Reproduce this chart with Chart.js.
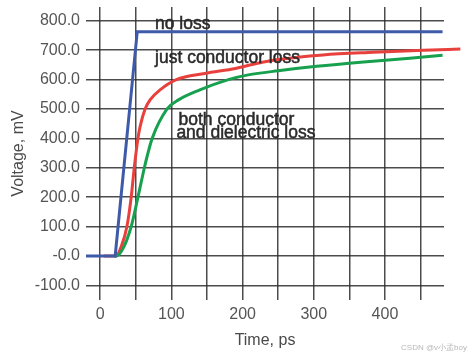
<!DOCTYPE html>
<html>
<head>
<meta charset="utf-8">
<script src="https://cdn.jsdelivr.net/npm/chart.js@4"></script>
<style>
  html, body { margin: 0; padding: 0; background: #ffffff; }
  #wrap { width: 474px; height: 356px; position: relative; }
</style>
</head>
<body>
<div id="wrap"><canvas id="c" width="474" height="356"></canvas></div>
<script>
// ---- data ----
const noLossTime = [-20, 21, 52, 481];
const noLossVolt = [0, 0, 763, 763];

const condTime = [5, 22, 30, 37.5, 43.5, 47.8, 53, 56, 63, 70, 84, 107, 147, 190, 215, 250, 313, 384, 454, 506];
const condVolt = [0, 0, 35, 100, 200, 300, 400, 440, 500, 531, 565, 600, 621, 638, 652, 668, 684, 693, 700, 704];

const bothTime = [20, 23, 33, 43.5, 53, 62, 66, 73, 94, 110, 140, 180, 208, 250, 304, 370, 435, 481];
const bothVolt = [0, 0, 30, 100, 200, 300, 340, 400, 500, 531, 565, 600, 616, 630, 645, 660, 673, 683];

const xTickValues = [0, 50, 100, 150, 200, 250, 300, 350, 400, 450];
const xTickLabels = ['0', '', '100', '', '200', '', '300', '', '400', ''];
const yTickValues = [-100, 0, 100, 200, 300, 400, 500, 600, 700, 800];
const yTickLabels = ['-100.0', '-0.0', '100.0', '200.0', '300.0', '400.0', '500.0', '600.0', '700.0', '800.0'];

const seriesNames = ['no loss', 'just conductor loss', 'both conductor and dielectric loss'];
const noteTexts = ['no loss', 'just conductor loss', 'both conductor', 'and dielectric loss'];
const noteTime = [77, 77, 110, 107];
const noteVolt = [789, 673, 463, 418];
const watermark = 'CSDN @v小孟boy';

function pts(xs, ys) { return xs.map((x, i) => ({ x: x, y: ys[i] })); }

const notesPlugin = {
  id: 'notes',
  afterDatasetsDraw(chart) {
    const ctx = chart.ctx;
    const xs = chart.scales.x, ys = chart.scales.y;
    ctx.save();
    ctx.font = '17.5px "Liberation Sans", Arial, sans-serif';
    ctx.fillStyle = '#2a2a2a';
    ctx.strokeStyle = '#2a2a2a';
    ctx.lineWidth = 0.5;
    ctx.textAlign = 'left';
    ctx.textBaseline = 'middle';
    noteTexts.forEach((t, i) => {
      const px = xs.getPixelForValue(noteTime[i]), py = ys.getPixelForValue(noteVolt[i]);
      ctx.fillText(t, px, py);
      ctx.strokeText(t, px, py);
    });
    ctx.font = '8px "Liberation Sans", Arial, sans-serif';
    ctx.fillStyle = '#b8b8b8';
    ctx.textAlign = 'right';
    ctx.fillText(watermark, chart.width - 7, chart.height - 8);
    ctx.restore();
  }
};

const gridColor = 'rgba(45,45,45,0.85)';
const tickFont = { family: '"Liberation Sans", Arial, sans-serif', size: 16 };

new Chart(document.getElementById('c'), {
  type: 'line',
  data: {
    datasets: [
      { label: seriesNames[0], data: pts(noLossTime, noLossVolt), borderColor: '#3f5aa8', borderWidth: 3, pointRadius: 0, tension: 0, clip: false },
      { label: seriesNames[2], data: pts(bothTime, bothVolt), borderColor: '#17a04e', borderWidth: 3, pointRadius: 0, cubicInterpolationMode: 'monotone', clip: false },
      { label: seriesNames[1], data: pts(condTime, condVolt), borderColor: '#e8403d', borderWidth: 3, pointRadius: 0, cubicInterpolationMode: 'monotone', clip: false }
    ]
  },
  options: {
    responsive: false,
    animation: false,
    layout: { padding: { left: 0, top: 7, right: 30, bottom: 0 } },
    plugins: { legend: { display: false }, tooltip: { enabled: false } },
    scales: {
      x: {
        type: 'linear',
        min: -20,
        max: 483,
        afterBuildTicks(scale) { scale.ticks = xTickValues.map(v => ({ value: v })); },
        afterFit(scale) { scale.height = 56; scale.paddingLeft = 0; scale.paddingRight = 0; },
        grid: { color: gridColor, lineWidth: 1.5, drawTicks: false },
        border: { display: false },
        ticks: {
          font: tickFont, color: '#555555', padding: 5, maxRotation: 0, autoSkip: false,
          callback: (v) => { const i = xTickValues.indexOf(v); return i >= 0 ? xTickLabels[i] : ''; }
        },
        title: { display: true, text: 'Time, ps', font: tickFont, color: '#4a4a4a', padding: 6 }
      },
      y: {
        type: 'linear',
        min: -150,
        max: 847,
        afterBuildTicks(scale) { scale.ticks = yTickValues.map(v => ({ value: v })); },
        afterFit(scale) { scale.width = 86; scale.paddingTop = 0; scale.paddingBottom = 0; },
        grid: { color: gridColor, lineWidth: 1.5, drawTicks: false },
        border: { display: false },
        ticks: {
          font: tickFont, color: '#555555', padding: 6, autoSkip: false,
          callback: (v) => { const i = yTickValues.indexOf(v); return i >= 0 ? yTickLabels[i] : ''; }
        },
        title: { display: true, text: 'Voltage, mV', font: tickFont, color: '#4a4a4a', padding: 9 }
      }
    }
  },
  plugins: [notesPlugin]
});
</script>
</body>
</html>
